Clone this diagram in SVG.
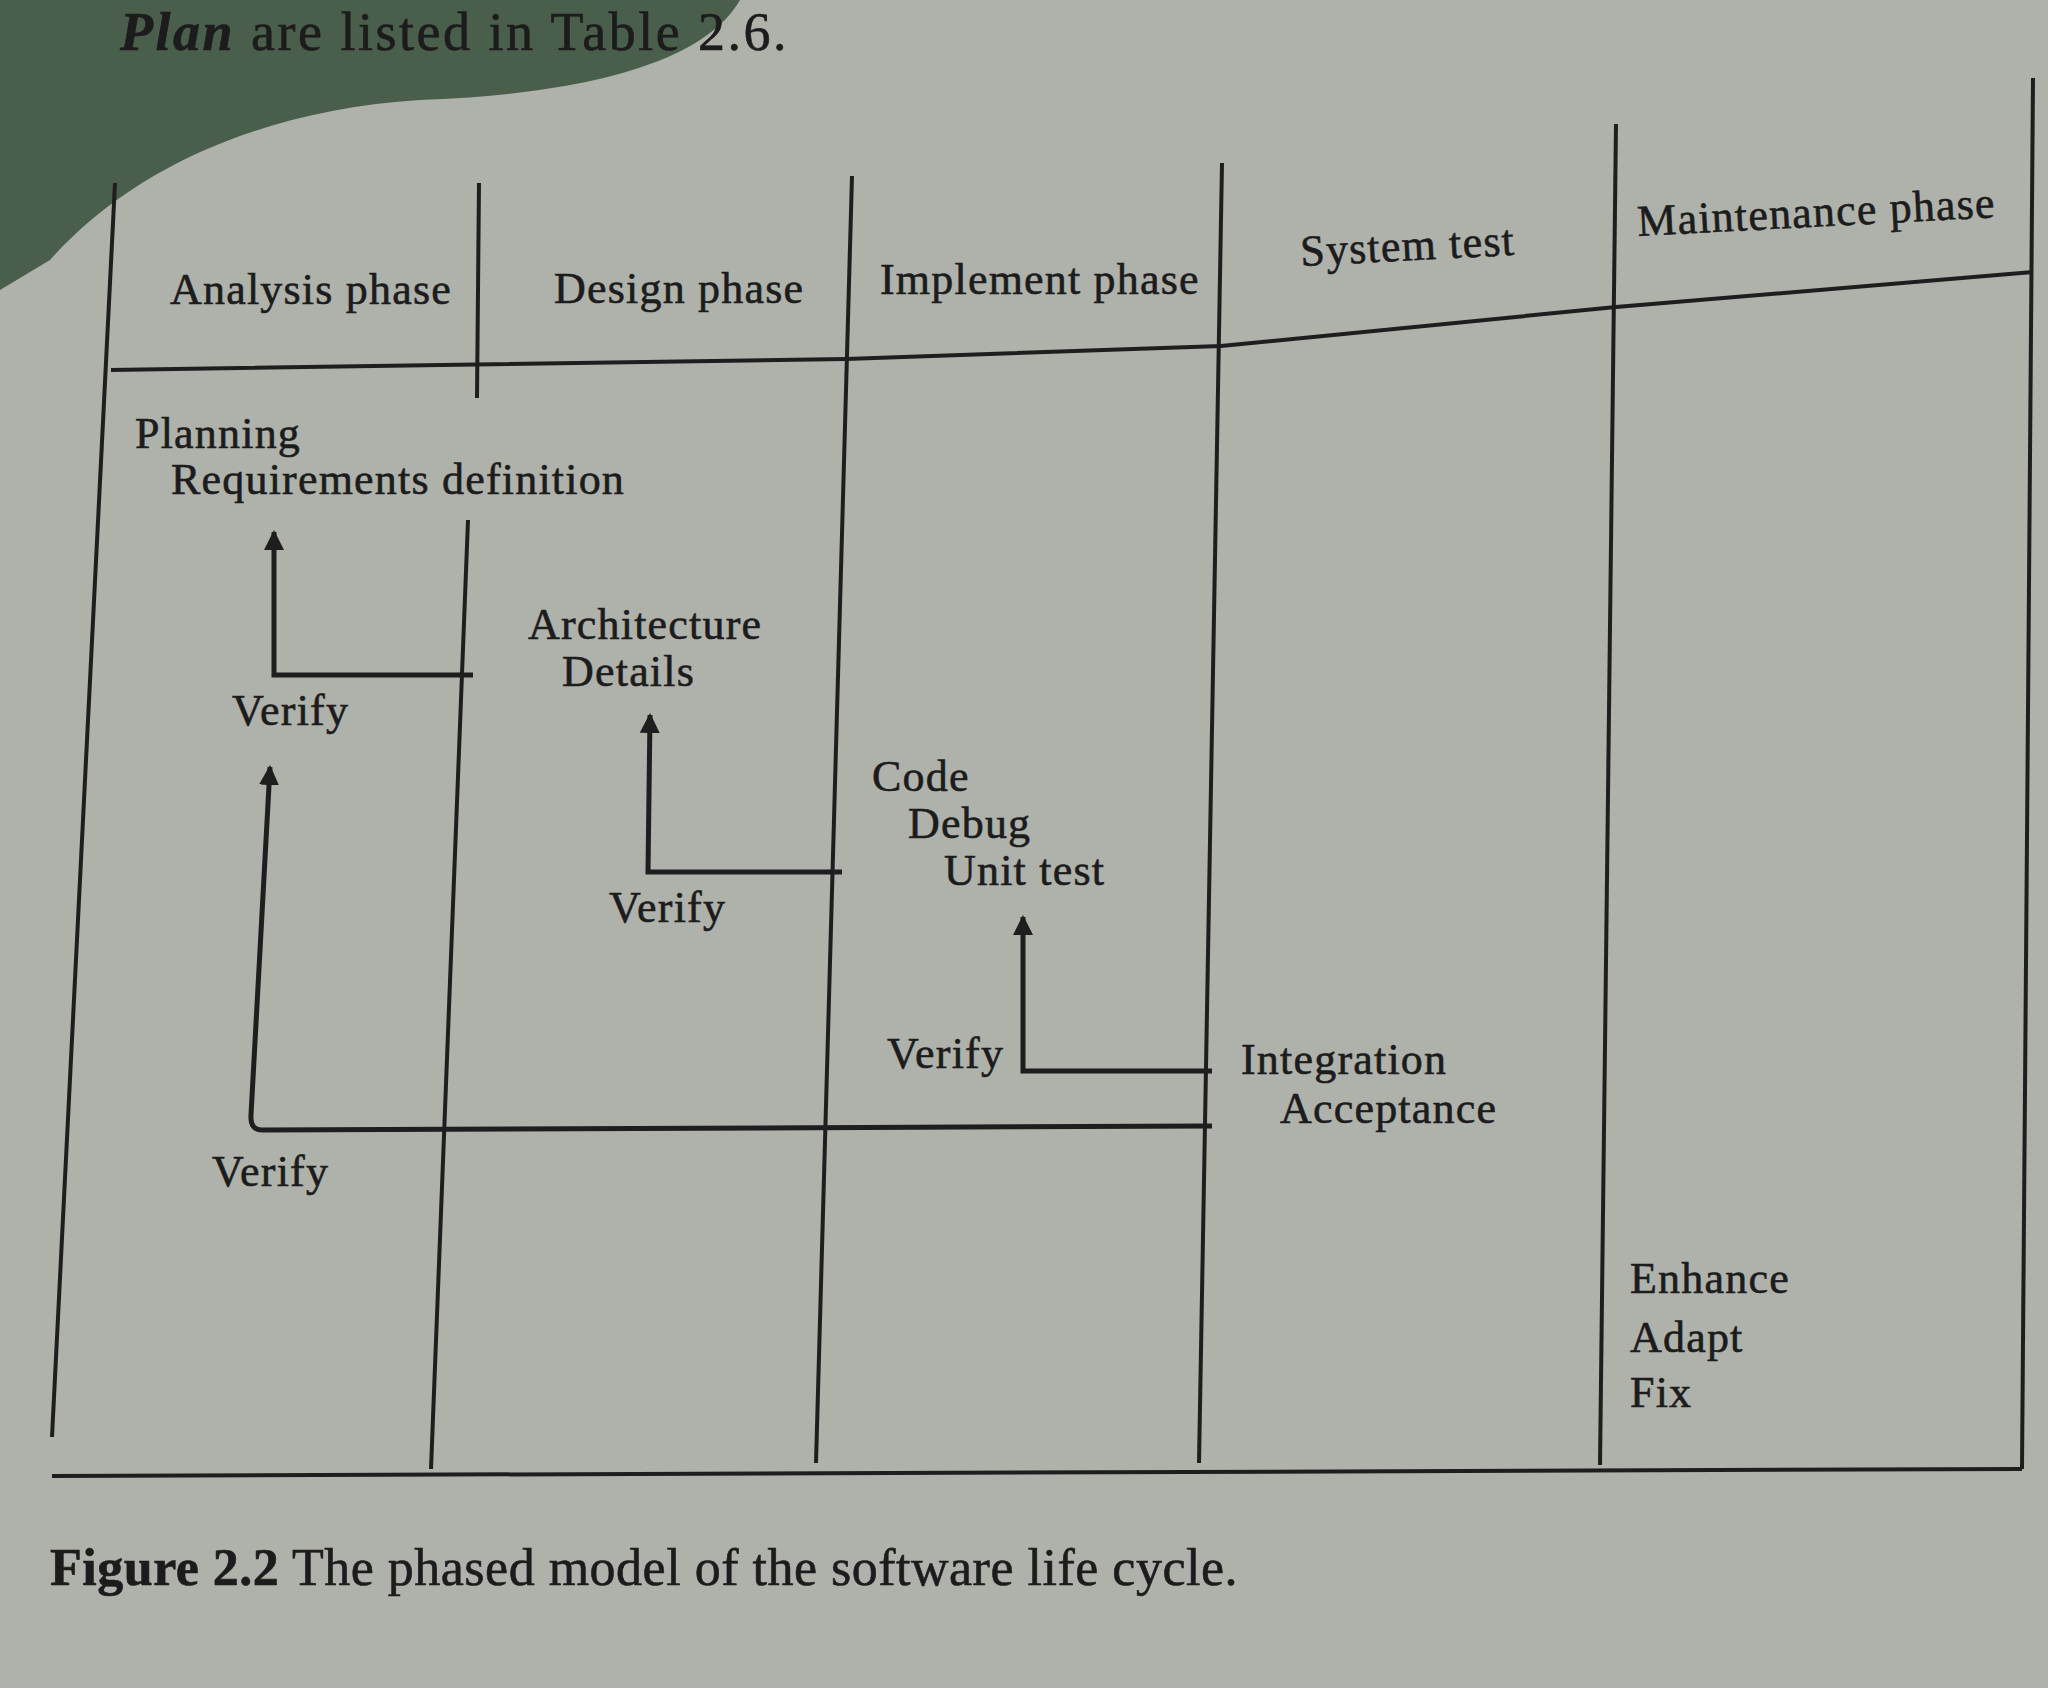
<svg xmlns="http://www.w3.org/2000/svg" width="2048" height="1688" viewBox="0 0 2048 1688">
<defs>
<style>
.t{font-family:"Liberation Serif",serif;font-size:44px;letter-spacing:1.2px;fill:#1c1c1c;stroke:#1c1c1c;stroke-width:0.6px}
.top{font-size:54px;letter-spacing:2.5px}
.cap{font-size:52px;letter-spacing:0.5px}
.ln{stroke:#1e1e1e;stroke-width:4;fill:none}
.ar{stroke:#1e1e1e;stroke-width:5;fill:none;marker-end:url(#ah)}
</style>
<marker id="ah" viewBox="0 0 10 10" refX="9" refY="5" markerWidth="4" markerHeight="5" orient="auto"><path d="M0,0 L10,5 L0,10 z" fill="#1e1e1e"/></marker>
</defs>
<rect width="2048" height="1688" fill="#afb1ab"/>
<path d="M0,0 L740,0 C700,70 560,95 420,100 C260,110 130,170 50,260 L0,290 Z" fill="#4a5e4c"/>
<text class="t top" x="120" y="50"><tspan font-style="italic" font-weight="bold">Plan</tspan> are listed in Table 2.6.</text>
<g id="grid">
<path class="ln" d="M115,183 L52,1437"/>
<path class="ln" d="M479,183 L477,398 M468,520 L431,1469"/>
<path class="ln" d="M852,176 L816,1463"/>
<path class="ln" d="M1222,163 L1199,1463"/>
<path class="ln" d="M1616,124 L1600,1465"/>
<path class="ln" d="M2033,78 L2022,1469"/>
<path class="ln" d="M111,370 L846,359 L1221,346 L1616,307 L2033,272"/>
<path class="ln" d="M52,1476 L2022,1469"/>
</g>
<g id="headers">
<text class="t" x="170" y="304">Analysis phase</text>
<text class="t" x="554" y="303">Design phase</text>
<text class="t" x="880" y="294">Implement phase</text>
<text class="t" x="1301" y="266" transform="rotate(-3 1301 266)">System test</text>
<text class="t" x="1638" y="236" transform="rotate(-3 1638 236)">Maintenance phase</text>
</g>
<g id="n-analysis"><text class="t" x="135" y="448">Planning</text><text class="t" x="171" y="494">Requirements definition</text></g>
<g id="n-design"><text class="t" x="528" y="639">Architecture</text><text class="t" x="562" y="686">Details</text></g>
<g id="n-impl"><text class="t" x="872" y="791">Code</text><text class="t" x="908" y="838">Debug</text><text class="t" x="944" y="885">Unit test</text></g>
<g id="n-test"><text class="t" x="1241" y="1074">Integration</text><text class="t" x="1280" y="1123">Acceptance</text></g>
<g id="n-maint"><text class="t" x="1630" y="1293">Enhance</text><text class="t" x="1630" y="1352">Adapt</text><text class="t" x="1630" y="1407">Fix</text></g>
<g id="connectors">
<path class="ar" d="M473,675 L274,675 L274,532"/>
<path class="ar" d="M842,872 L648,872 L650,715"/>
<path class="ar" d="M1212,1071 L1023,1071 L1023,917"/>
<path class="ar" d="M1212,1126 L262,1130 Q250,1130 251,1115 L270,767"/>
<text class="t" x="232" y="725">Verify</text>
<text class="t" x="609" y="922">Verify</text>
<text class="t" x="887" y="1068">Verify</text>
<text class="t" x="212" y="1186">Verify</text>
</g>
<text class="t cap" x="50" y="1585"><tspan font-weight="bold">Figure 2.2</tspan> The phased model of the software life cycle.</text>
</svg>
